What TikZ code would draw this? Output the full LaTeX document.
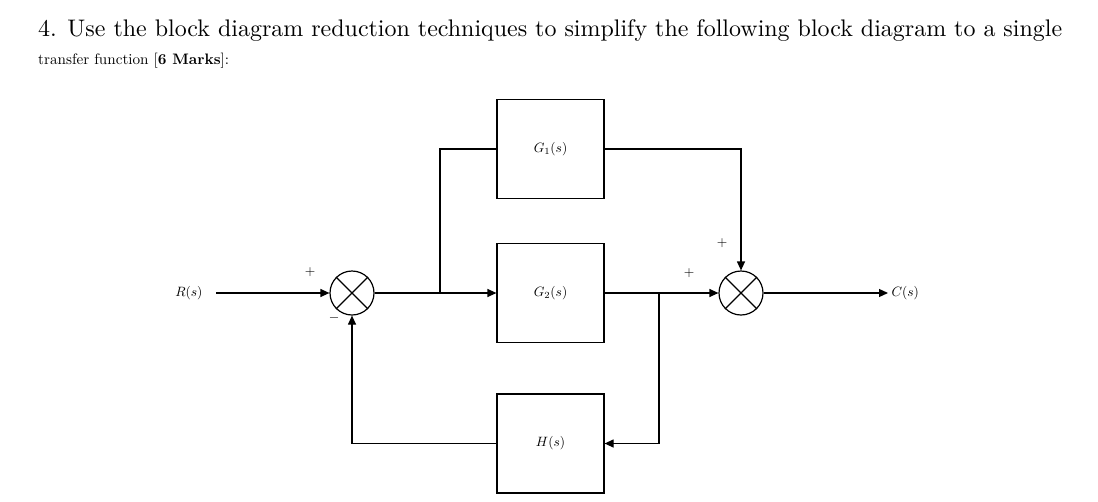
\documentclass[tikz,border=0pt]{standalone}
\usetikzlibrary{arrows.meta}
\newcommand{\bigtxt}[1]{\scalebox{1.35}{#1}}
\begin{document}
\begin{tikzpicture}[x=1pt,y=-1pt,
  blk/.style={draw,line width=1.2pt,minimum width=107pt,minimum height=99pt,inner sep=0pt},
  sum/.style={draw,circle,line width=1.2pt,minimum size=44pt,inner sep=0pt},
  ln/.style={line width=1.2pt},
  ar/.style={ln,-{Triangle[length=9pt,width=8pt]}},
  sg/.style={inner sep=0pt}]
\useasboundingbox (0,0) rectangle (1098,501);
\node[anchor=base west,inner sep=0pt] (t1) at (38,36) {\resizebox{1024pt}{!}{4. Use the block diagram reduction techniques to simplify the following block diagram to a single}};
\node[anchor=base west,inner sep=0pt] (t2) at (38,64) {\scalebox{1.515}{transfer function [\textbf{6 Marks}]:}};
\node[blk] (g1) at (550.5,149) {\bigtxt{$G_1(s)$}};
\node[blk] (g2) at (550.5,293) {\bigtxt{$G_2(s)$}};
\node[blk] (h) at (550.5,443.5) {\bigtxt{$H(s)$}};
\node[sum] (s1) at (352,293) {};
\node[sum] (s2) at (741,293) {};
\draw[ln] (s1.north west)--(s1.south east) (s1.north east)--(s1.south west);
\draw[ln] (s2.north west)--(s2.south east) (s2.north east)--(s2.south west);
\node[anchor=east] (r) at (206,293) {\bigtxt{$R(s)$}};
\node[anchor=west] (c) at (888,293) {\bigtxt{$C(s)$}};
\coordinate (b1) at (440,293);
\coordinate (b2) at (659,293);
\draw[ar] (r.east)++(10,0) -- (s1.west);
\draw[ar] (s1.east) -- (g2.west);
\draw[ln] (b1) |- (g1.west);
\draw[ln] (g2.east) -- (b2);
\draw[ar] (b2) -- (s2.west);
\draw[ar] (b2) |- (h.east);
\draw[ar] (h.west) -| (s1.south);
\draw[ar] (g1.east) -| (s2.north);
\draw[ar] (s2.east) -- (c.west);
\node[sg] (p1) at (310,272) {\bigtxt{$+$}};
\node[sg] (m1) at (334,318) {\bigtxt{$-$}};
\node[sg] (p2) at (689,273) {\bigtxt{$+$}};
\node[sg] (p3) at (722,243) {\bigtxt{$+$}};
\end{tikzpicture}
\end{document}
